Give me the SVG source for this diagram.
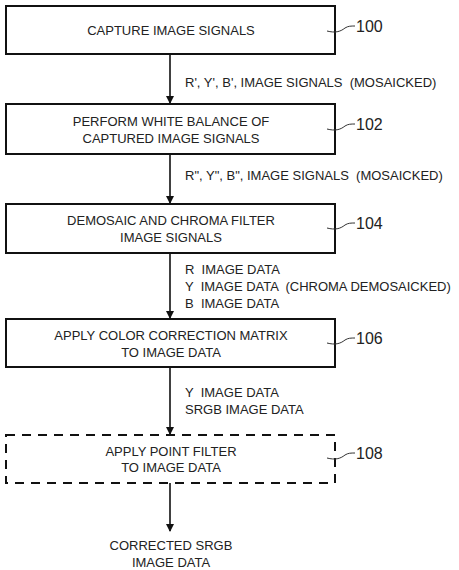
<svg xmlns="http://www.w3.org/2000/svg" width="459" height="570" viewBox="0 0 459 570" xml:space="preserve">
<style>
.box{fill:#fff;stroke:#111;stroke-width:2}
.dash{fill:#fff;stroke:#111;stroke-width:2;stroke-dasharray:9 7}
.t{font-family:"Liberation Sans",Arial,sans-serif;font-size:13px;fill:#222;text-anchor:middle}
.l{font-family:"Liberation Sans",Arial,sans-serif;font-size:13px;fill:#222;white-space:pre}
.n{font-family:"Liberation Sans",Arial,sans-serif;font-size:16px;fill:#222}
.ar{stroke:#111;stroke-width:1.6;fill:none;marker-end:url(#ah)}
.ld{stroke:#333;stroke-width:1;fill:none}
</style>
<defs>
<marker id="ah" markerWidth="8" markerHeight="10" refX="7" refY="4" orient="auto" markerUnits="userSpaceOnUse">
<path d="M0,0 L8,4 L0,8 z" fill="#111"/>
</marker>
</defs>
<g id="connectors">
<line class="ar" x1="170" y1="54" x2="170" y2="103"/>
<line class="ar" x1="170" y1="154" x2="170" y2="203"/>
<line class="ar" x1="170" y1="253" x2="170" y2="318"/>
<line class="ar" x1="170" y1="367" x2="170" y2="434"/>
<line class="ar" x1="170" y1="483" x2="170" y2="531"/>
<text class="l" x="185" y="87">R', Y', B', IMAGE SIGNALS  (MOSAICKED)</text>
<text class="l" x="185" y="180">R", Y", B", IMAGE SIGNALS  (MOSAICKED)</text>
<text class="l" x="185" y="274">R  IMAGE DATA</text>
<text class="l" x="185" y="291">Y  IMAGE DATA  (CHROMA DEMOSAICKED)</text>
<text class="l" x="185" y="308">B  IMAGE DATA</text>
<text class="l" x="185" y="397">Y  IMAGE DATA</text>
<text class="l" x="185" y="414">SRGB IMAGE DATA</text>
</g>
<g id="n100">
<rect class="box" x="6" y="6" width="329" height="48"/>
<text class="t" x="171" y="35">CAPTURE IMAGE SIGNALS</text>
<path class="ld" d="M327,31 C335,33 340,32 345,28 C348,26 351,26 355,26"/>
<text class="n" x="356" y="32">100</text>
</g>
<g id="n102">
<rect class="box" x="6" y="104" width="329" height="50"/>
<text class="t" x="171" y="126">PERFORM WHITE BALANCE OF</text>
<text class="t" x="171" y="143">CAPTURED IMAGE SIGNALS</text>
<path class="ld" d="M327,129 C335,131 340,130 345,126 C348,124 351,124 355,124"/>
<text class="n" x="356" y="130">102</text>
</g>
<g id="n104">
<rect class="box" x="6" y="204" width="329" height="49"/>
<text class="t" x="171" y="225">DEMOSAIC AND CHROMA FILTER</text>
<text class="t" x="171" y="242">IMAGE SIGNALS</text>
<path class="ld" d="M327,228 C335,230 340,229 345,225 C348,223 351,223 355,223"/>
<text class="n" x="356" y="229">104</text>
</g>
<g id="n106">
<rect class="box" x="6" y="319" width="329" height="48"/>
<text class="t" x="171" y="340">APPLY COLOR CORRECTION MATRIX</text>
<text class="t" x="171" y="357">TO IMAGE DATA</text>
<path class="ld" d="M327,343 C335,345 340,344 345,340 C348,338 351,338 355,338"/>
<text class="n" x="356" y="344">106</text>
</g>
<g id="n108">
<rect class="dash" x="6" y="435" width="329" height="48"/>
<text class="t" x="171" y="456">APPLY POINT FILTER</text>
<text class="t" x="171" y="472">TO IMAGE DATA</text>
<path class="ld" d="M327,458 C335,460 340,459 345,455 C348,453 351,453 355,453"/>
<text class="n" x="356" y="459">108</text>
</g>
<g id="out">
<text class="t" x="171" y="550">CORRECTED SRGB</text>
<text class="t" x="171" y="567">IMAGE DATA</text>
</g>
</svg>
